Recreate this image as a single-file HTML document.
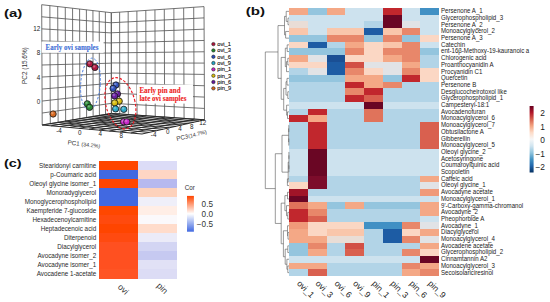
<!DOCTYPE html>
<html><head><meta charset="utf-8"><style>
html,body{margin:0;padding:0;background:#fff;}
body{width:550px;height:302px;overflow:hidden;position:relative;}
svg{position:absolute;left:0;top:0;}
text{font-family:"Liberation Sans",sans-serif;}
text.serif{font-family:"Liberation Serif",serif;}
</style></head><body>
<svg width="550" height="302" viewBox="0 0 550 302">
<rect width="550" height="302" fill="#fff"/>
<!-- panel labels -->
<text transform="translate(3.9,16.6) scale(1.27,1)" font-size="11.8" font-weight="bold" fill="#111">(a)</text>
<text transform="translate(245.8,14.5) scale(1.28,1)" font-size="11.8" font-weight="bold" fill="#111">(b)</text>
<text transform="translate(3.9,166.8) scale(1.22,1)" font-size="11.8" font-weight="bold" fill="#111">(c)</text>
<!-- 3D PCA -->
<g fill="none" stroke="#5a5a5a" stroke-width="0.85">
<path d="M41.70 4.70L42.20 125.00M49.86 5.64L50.31 123.64M57.71 6.54L58.11 122.33M65.28 7.41L65.63 121.07M72.57 8.25L72.87 119.86M79.60 9.06L79.86 118.69M86.38 9.84L86.61 117.56M92.93 10.59L93.12 116.46M99.26 11.32L99.42 115.41M105.38 12.02L105.51 114.39M111.30 12.70L111.40 113.40M41.70 4.70L111.30 12.70M41.75 16.79L111.31 22.81M41.80 28.87L111.32 32.91M41.85 40.93L111.33 43.01M41.90 52.98L111.34 53.09M41.95 65.01L111.35 63.17M42.00 77.04L111.36 73.23M42.05 89.05L111.37 83.29M42.10 101.05L111.38 93.33M42.15 113.03L111.39 103.37M42.20 125.00L111.40 113.40"/>
<path d="M111.30 12.70L111.40 113.40M119.64 12.15L119.77 113.98M128.17 11.59L128.33 114.56M136.89 11.02L137.09 115.17M145.81 10.43L146.05 115.78M154.95 9.83L155.22 116.41M164.29 9.21L164.61 117.06M173.87 8.58L174.23 117.72M183.67 7.94L184.07 118.40M193.71 7.28L194.16 119.09M204.00 6.60L204.50 119.80M111.30 12.70L204.00 6.60M111.31 22.74L204.05 17.88M111.32 32.78L204.10 29.16M111.33 42.83L204.15 40.46M111.34 52.89L204.20 51.77M111.35 62.96L204.25 63.08M111.36 73.03L204.30 74.41M111.37 83.11L204.35 85.74M111.38 93.20L204.40 97.08M111.39 103.30L204.45 108.44M111.40 113.40L204.50 119.80"/>
</g>
<g fill="none" stroke="#2a2a2a" stroke-width="1.0">
<path d="M42.20 125.00L142.00 134.00M50.04 123.69L149.19 132.37M57.65 122.41L156.14 130.79M65.04 121.17L162.86 129.26M72.22 119.97L169.38 127.78M79.21 118.80L175.69 126.35M86.00 117.66L181.80 124.96M92.61 116.55L187.74 123.61M99.04 115.47L193.49 122.30M105.30 114.42L199.08 121.03M111.40 113.40L204.50 119.80M42.20 125.00L111.40 113.40M51.13 125.81L119.86 113.98M60.27 126.63L128.49 114.57M69.63 127.47L137.30 115.18M79.22 128.34L146.30 115.80M89.04 129.22L155.48 116.43M99.10 130.13L164.87 117.08M109.42 131.06L174.45 117.73M120.00 132.02L184.25 118.41M130.86 133.00L194.26 119.10M142.00 134.00L204.50 119.80"/>
</g>
<g font-size="6.3" fill="#222" text-anchor="end">
<text x="40.3" y="31.4">12</text><text x="40.3" y="55.4">8</text><text x="40.3" y="79.5">4</text><text x="40.3" y="103.7">0</text>
</g>
<text transform="translate(27.2,65.6) rotate(-90)" font-size="6.4" fill="#333" text-anchor="middle">PC2 (15.6%)</text>
<g font-size="6.3" fill="#222" text-anchor="middle">
<text x="59" y="133">-4</text><text x="79.8" y="134.5">0</text><text x="100.2" y="136.2">4</text><text x="121.3" y="138.1">8</text>
<text x="153.6" y="137.2">-4</text><text x="167.8" y="133.6">0</text><text x="180" y="130.8">4</text><text x="191.8" y="128.5">8</text><text x="202.7" y="125.4">12</text>
</g>
<text transform="translate(67.5,144.5) rotate(6)" font-size="6.2" fill="#333">PC1 <tspan font-size="5.4">(34.2%)</tspan></text>
<text transform="translate(177,141) rotate(-14)" font-size="6.2" fill="#333">PC3<tspan font-size="5.4">(14.7%)</tspan></text>
<!-- labels boxes -->
<rect x="41.6" y="41.6" width="62" height="11.2" fill="#fff"/>
<text class="serif" transform="translate(45.6,50.1) scale(0.92,1)" font-weight="bold" font-size="7.6" fill="#3f6fd6" stroke="#3f6fd6" stroke-width="0.12">Early ovi samples</text>
<rect x="137" y="84.6" width="56" height="19" fill="#fff"/>
<g font-weight="bold" font-size="7.6" fill="#ee1c25" stroke="#ee1c25" stroke-width="0.12" transform="translate(139.4,0) scale(0.92,1)">
<text class="serif" x="0" y="92.9">Early pin and</text>
<text class="serif" x="0" y="100.9">late ovi samples</text>
</g>
<ellipse cx="90.5" cy="84" rx="9.8" ry="25.9" fill="none" stroke="#4a7de0" stroke-width="0.95" stroke-dasharray="2.4 1.7" transform="rotate(4 90.5 84)"/>
<ellipse cx="120.2" cy="103.4" rx="14.6" ry="26.2" fill="none" stroke="#ec1c24" stroke-width="1.15" stroke-dasharray="2.6 1.7" transform="rotate(-14 119.8 102.6)"/>
<circle cx="53.1" cy="114.0" r="3.15" fill="#d86418" stroke="#151515" stroke-width="0.8"/><circle cx="53.1" cy="114.0" r="3.15" fill="url(#sh)"/><circle cx="87.3" cy="103.8" r="3.15" fill="#22882e" stroke="#151515" stroke-width="0.8"/><circle cx="87.3" cy="103.8" r="3.15" fill="url(#sh)"/><circle cx="89.6" cy="107.3" r="3.15" fill="#22882e" stroke="#151515" stroke-width="0.8"/><circle cx="89.6" cy="107.3" r="3.15" fill="url(#sh)"/><circle cx="89.9" cy="63.9" r="3.15" fill="#b0103a" stroke="#151515" stroke-width="0.8"/><circle cx="89.9" cy="63.9" r="3.15" fill="url(#sh)"/><circle cx="94.9" cy="67.4" r="3.15" fill="#b0103a" stroke="#151515" stroke-width="0.8"/><circle cx="94.9" cy="67.4" r="3.15" fill="url(#sh)"/><circle cx="116.0" cy="85.0" r="3.15" fill="#2a4cbc" stroke="#151515" stroke-width="0.8"/><circle cx="116.0" cy="85.0" r="3.15" fill="url(#sh)"/><circle cx="113.1" cy="88.4" r="3.15" fill="#2a4cbc" stroke="#151515" stroke-width="0.8"/><circle cx="113.1" cy="88.4" r="3.15" fill="url(#sh)"/><circle cx="117.4" cy="93.9" r="3.15" fill="#6414a0" stroke="#151515" stroke-width="0.8"/><circle cx="117.4" cy="93.9" r="3.15" fill="url(#sh)"/><circle cx="114.6" cy="95.9" r="3.15" fill="#6414a0" stroke="#151515" stroke-width="0.8"/><circle cx="114.6" cy="95.9" r="3.15" fill="url(#sh)"/><circle cx="119.2" cy="101.2" r="3.15" fill="#d8bc08" stroke="#151515" stroke-width="0.8"/><circle cx="119.2" cy="101.2" r="3.15" fill="url(#sh)"/><circle cx="114.7" cy="102.9" r="3.15" fill="#d8bc08" stroke="#151515" stroke-width="0.8"/><circle cx="114.7" cy="102.9" r="3.15" fill="url(#sh)"/><circle cx="115.6" cy="108.9" r="3.15" fill="#22a6c8" stroke="#151515" stroke-width="0.8"/><circle cx="115.6" cy="108.9" r="3.15" fill="url(#sh)"/><circle cx="123.8" cy="109.3" r="3.15" fill="#22a6c8" stroke="#151515" stroke-width="0.8"/><circle cx="123.8" cy="109.3" r="3.15" fill="url(#sh)"/><circle cx="123.6" cy="121.8" r="3.15" fill="#c81ec8" stroke="#151515" stroke-width="0.8"/><circle cx="123.6" cy="121.8" r="3.15" fill="url(#sh)"/><circle cx="126.8" cy="121.8" r="3.15" fill="#c81ec8" stroke="#151515" stroke-width="0.8"/><circle cx="126.8" cy="121.8" r="3.15" fill="url(#sh)"/>
<g font-size="5.7" fill="#111" stroke="#111" stroke-width="0.12"><circle cx="213.4" cy="44.10" r="1.7" fill="#b0103a" stroke="#222" stroke-width="0.6"/><text x="217.3" y="46.10">ovi_1</text><circle cx="213.4" cy="50.42" r="1.7" fill="#22882e" stroke="#222" stroke-width="0.6"/><text x="217.3" y="52.42">ovi_3</text><circle cx="213.4" cy="56.74" r="1.7" fill="#2a4cbc" stroke="#222" stroke-width="0.6"/><text x="217.3" y="58.74">ovi_6</text><circle cx="213.4" cy="63.06" r="1.7" fill="#22a6c8" stroke="#222" stroke-width="0.6"/><text x="217.3" y="65.06">ovi_9</text><circle cx="213.4" cy="69.38" r="1.7" fill="#c81ec8" stroke="#222" stroke-width="0.6"/><text x="217.3" y="71.38">pin_1</text><circle cx="213.4" cy="75.70" r="1.7" fill="#d8bc08" stroke="#222" stroke-width="0.6"/><text x="217.3" y="77.70">pin_3</text><circle cx="213.4" cy="82.02" r="1.7" fill="#6414a0" stroke="#222" stroke-width="0.6"/><text x="217.3" y="84.02">pin_6</text><circle cx="213.4" cy="88.34" r="1.7" fill="#d86418" stroke="#222" stroke-width="0.6"/><text x="217.3" y="90.34">pin_9</text></g>
<!-- heatmap b -->
<g shape-rendering="crispEdges"><rect x="289.00" y="8.00" width="19.05" height="7.00" fill="#f4a886"/><rect x="307.75" y="8.00" width="19.05" height="7.00" fill="#94c5de"/><rect x="326.50" y="8.00" width="19.05" height="7.00" fill="#f4a886"/><rect x="345.25" y="8.00" width="19.05" height="7.00" fill="#cde2ee"/><rect x="364.00" y="8.00" width="19.05" height="7.00" fill="#cde2ee"/><rect x="382.75" y="8.00" width="19.05" height="7.00" fill="#c1272d"/><rect x="401.50" y="8.00" width="19.05" height="7.00" fill="#cde2ee"/><rect x="420.25" y="8.00" width="19.05" height="7.00" fill="#4190c4"/><rect x="289.00" y="14.70" width="19.05" height="7.00" fill="#cde2ee"/><rect x="307.75" y="14.70" width="19.05" height="7.00" fill="#cde2ee"/><rect x="326.50" y="14.70" width="19.05" height="7.00" fill="#cde2ee"/><rect x="345.25" y="14.70" width="19.05" height="7.00" fill="#cde2ee"/><rect x="364.00" y="14.70" width="19.05" height="7.00" fill="#cde2ee"/><rect x="382.75" y="14.70" width="19.05" height="7.00" fill="#6a0624"/><rect x="401.50" y="14.70" width="19.05" height="7.00" fill="#cde2ee"/><rect x="420.25" y="14.70" width="19.05" height="7.00" fill="#cde2ee"/><rect x="289.00" y="21.40" width="19.05" height="7.00" fill="#e9ddd6"/><rect x="307.75" y="21.40" width="19.05" height="7.00" fill="#cde2ee"/><rect x="326.50" y="21.40" width="19.05" height="7.00" fill="#cde2ee"/><rect x="345.25" y="21.40" width="19.05" height="7.00" fill="#cde2ee"/><rect x="364.00" y="21.40" width="19.05" height="7.00" fill="#b2d4e7"/><rect x="382.75" y="21.40" width="19.05" height="7.00" fill="#6a0624"/><rect x="401.50" y="21.40" width="19.05" height="7.00" fill="#e1e3e6"/><rect x="420.25" y="21.40" width="19.05" height="7.00" fill="#cde2ee"/><rect x="289.00" y="28.10" width="19.05" height="7.00" fill="#f9c6ab"/><rect x="307.75" y="28.10" width="19.05" height="7.00" fill="#cde2ee"/><rect x="326.50" y="28.10" width="19.05" height="7.00" fill="#f9c6ab"/><rect x="345.25" y="28.10" width="19.05" height="7.00" fill="#f9c6ab"/><rect x="364.00" y="28.10" width="19.05" height="7.00" fill="#1d5ca4"/><rect x="382.75" y="28.10" width="19.05" height="7.00" fill="#f9c6ab"/><rect x="401.50" y="28.10" width="19.05" height="7.00" fill="#e8876a"/><rect x="420.25" y="28.10" width="19.05" height="7.00" fill="#cde2ee"/><rect x="289.00" y="34.80" width="19.05" height="7.00" fill="#94c5de"/><rect x="307.75" y="34.80" width="19.05" height="7.00" fill="#94c5de"/><rect x="326.50" y="34.80" width="19.05" height="7.00" fill="#e8876a"/><rect x="345.25" y="34.80" width="19.05" height="7.00" fill="#e8876a"/><rect x="364.00" y="34.80" width="19.05" height="7.00" fill="#94c5de"/><rect x="382.75" y="34.80" width="19.05" height="7.00" fill="#e8876a"/><rect x="401.50" y="34.80" width="19.05" height="7.00" fill="#94c5de"/><rect x="420.25" y="34.80" width="19.05" height="7.00" fill="#fbd7c4"/><rect x="289.00" y="41.50" width="19.05" height="7.00" fill="#fbd7c4"/><rect x="307.75" y="41.50" width="19.05" height="7.00" fill="#1d5ca4"/><rect x="326.50" y="41.50" width="19.05" height="7.00" fill="#b2d4e7"/><rect x="345.25" y="41.50" width="19.05" height="7.00" fill="#f4a886"/><rect x="364.00" y="41.50" width="19.05" height="7.00" fill="#fbd7c4"/><rect x="382.75" y="41.50" width="19.05" height="7.00" fill="#f9c6ab"/><rect x="401.50" y="41.50" width="19.05" height="7.00" fill="#e8876a"/><rect x="420.25" y="41.50" width="19.05" height="7.00" fill="#cde2ee"/><rect x="289.00" y="48.20" width="19.05" height="7.00" fill="#94c5de"/><rect x="307.75" y="48.20" width="19.05" height="7.00" fill="#94c5de"/><rect x="326.50" y="48.20" width="19.05" height="7.00" fill="#94c5de"/><rect x="345.25" y="48.20" width="19.05" height="7.00" fill="#e8876a"/><rect x="364.00" y="48.20" width="19.05" height="7.00" fill="#fbd7c4"/><rect x="382.75" y="48.20" width="19.05" height="7.00" fill="#e8876a"/><rect x="401.50" y="48.20" width="19.05" height="7.00" fill="#e8876a"/><rect x="420.25" y="48.20" width="19.05" height="7.00" fill="#94c5de"/><rect x="289.00" y="54.90" width="19.05" height="7.00" fill="#f4a886"/><rect x="307.75" y="54.90" width="19.05" height="7.00" fill="#e1e3e6"/><rect x="326.50" y="54.90" width="19.05" height="7.00" fill="#1a4f94"/><rect x="345.25" y="54.90" width="19.05" height="7.00" fill="#fbd7c4"/><rect x="364.00" y="54.90" width="19.05" height="7.00" fill="#fbd7c4"/><rect x="382.75" y="54.90" width="19.05" height="7.00" fill="#f4a886"/><rect x="401.50" y="54.90" width="19.05" height="7.00" fill="#e8876a"/><rect x="420.25" y="54.90" width="19.05" height="7.00" fill="#b2d4e7"/><rect x="289.00" y="61.60" width="19.05" height="7.00" fill="#fbd7c4"/><rect x="307.75" y="61.60" width="19.05" height="7.00" fill="#fbd7c4"/><rect x="326.50" y="61.60" width="19.05" height="7.00" fill="#1d5ca4"/><rect x="345.25" y="61.60" width="19.05" height="7.00" fill="#d24f45"/><rect x="364.00" y="61.60" width="19.05" height="7.00" fill="#e1e3e6"/><rect x="382.75" y="61.60" width="19.05" height="7.00" fill="#e1e3e6"/><rect x="401.50" y="61.60" width="19.05" height="7.00" fill="#f4a886"/><rect x="420.25" y="61.60" width="19.05" height="7.00" fill="#b2d4e7"/><rect x="289.00" y="68.30" width="19.05" height="7.00" fill="#b2d4e7"/><rect x="307.75" y="68.30" width="19.05" height="7.00" fill="#e1e3e6"/><rect x="326.50" y="68.30" width="19.05" height="7.00" fill="#1d5ca4"/><rect x="345.25" y="68.30" width="19.05" height="7.00" fill="#e8876a"/><rect x="364.00" y="68.30" width="19.05" height="7.00" fill="#fbd7c4"/><rect x="382.75" y="68.30" width="19.05" height="7.00" fill="#e1e3e6"/><rect x="401.50" y="68.30" width="19.05" height="7.00" fill="#e8876a"/><rect x="420.25" y="68.30" width="19.05" height="7.00" fill="#fbd7c4"/><rect x="289.00" y="75.00" width="19.05" height="7.00" fill="#94c5de"/><rect x="307.75" y="75.00" width="19.05" height="7.00" fill="#94c5de"/><rect x="326.50" y="75.00" width="19.05" height="7.00" fill="#94c5de"/><rect x="345.25" y="75.00" width="19.05" height="7.00" fill="#f4a886"/><rect x="364.00" y="75.00" width="19.05" height="7.00" fill="#f4a886"/><rect x="382.75" y="75.00" width="19.05" height="7.00" fill="#94c5de"/><rect x="401.50" y="75.00" width="19.05" height="7.00" fill="#c1272d"/><rect x="420.25" y="75.00" width="19.05" height="7.00" fill="#fbd7c4"/><rect x="289.00" y="81.70" width="19.05" height="7.00" fill="#b2d4e7"/><rect x="307.75" y="81.70" width="19.05" height="7.00" fill="#b2d4e7"/><rect x="326.50" y="81.70" width="19.05" height="7.00" fill="#b2d4e7"/><rect x="345.25" y="81.70" width="19.05" height="7.00" fill="#c1272d"/><rect x="364.00" y="81.70" width="19.05" height="7.00" fill="#f4a886"/><rect x="382.75" y="81.70" width="19.05" height="7.00" fill="#e8876a"/><rect x="401.50" y="81.70" width="19.05" height="7.00" fill="#b2d4e7"/><rect x="420.25" y="81.70" width="19.05" height="7.00" fill="#b2d4e7"/><rect x="289.00" y="88.40" width="19.05" height="7.00" fill="#b2d4e7"/><rect x="307.75" y="88.40" width="19.05" height="7.00" fill="#b2d4e7"/><rect x="326.50" y="88.40" width="19.05" height="7.00" fill="#b2d4e7"/><rect x="345.25" y="88.40" width="19.05" height="7.00" fill="#e8876a"/><rect x="364.00" y="88.40" width="19.05" height="7.00" fill="#c1272d"/><rect x="382.75" y="88.40" width="19.05" height="7.00" fill="#b2d4e7"/><rect x="401.50" y="88.40" width="19.05" height="7.00" fill="#b2d4e7"/><rect x="420.25" y="88.40" width="19.05" height="7.00" fill="#b2d4e7"/><rect x="289.00" y="95.10" width="19.05" height="7.00" fill="#b2d4e7"/><rect x="307.75" y="95.10" width="19.05" height="7.00" fill="#b2d4e7"/><rect x="326.50" y="95.10" width="19.05" height="7.00" fill="#b2d4e7"/><rect x="345.25" y="95.10" width="19.05" height="7.00" fill="#c1272d"/><rect x="364.00" y="95.10" width="19.05" height="7.00" fill="#d9604f"/><rect x="382.75" y="95.10" width="19.05" height="7.00" fill="#b2d4e7"/><rect x="401.50" y="95.10" width="19.05" height="7.00" fill="#b2d4e7"/><rect x="420.25" y="95.10" width="19.05" height="7.00" fill="#b2d4e7"/><rect x="289.00" y="101.80" width="19.05" height="7.00" fill="#cde2ee"/><rect x="307.75" y="101.80" width="19.05" height="7.00" fill="#cde2ee"/><rect x="326.50" y="101.80" width="19.05" height="7.00" fill="#cde2ee"/><rect x="345.25" y="101.80" width="19.05" height="7.00" fill="#cde2ee"/><rect x="364.00" y="101.80" width="19.05" height="7.00" fill="#6a0624"/><rect x="382.75" y="101.80" width="19.05" height="7.00" fill="#cde2ee"/><rect x="401.50" y="101.80" width="19.05" height="7.00" fill="#cde2ee"/><rect x="420.25" y="101.80" width="19.05" height="7.00" fill="#cde2ee"/><rect x="289.00" y="108.50" width="19.05" height="7.00" fill="#b2d4e7"/><rect x="307.75" y="108.50" width="19.05" height="7.00" fill="#c1272d"/><rect x="326.50" y="108.50" width="19.05" height="7.00" fill="#b2d4e7"/><rect x="345.25" y="108.50" width="19.05" height="7.00" fill="#b2d4e7"/><rect x="364.00" y="108.50" width="19.05" height="7.00" fill="#e0735b"/><rect x="382.75" y="108.50" width="19.05" height="7.00" fill="#b2d4e7"/><rect x="401.50" y="108.50" width="19.05" height="7.00" fill="#b2d4e7"/><rect x="420.25" y="108.50" width="19.05" height="7.00" fill="#b2d4e7"/><rect x="289.00" y="115.20" width="19.05" height="7.00" fill="#c1272d"/><rect x="307.75" y="115.20" width="19.05" height="7.00" fill="#f4a886"/><rect x="326.50" y="115.20" width="19.05" height="7.00" fill="#b2d4e7"/><rect x="345.25" y="115.20" width="19.05" height="7.00" fill="#b2d4e7"/><rect x="364.00" y="115.20" width="19.05" height="7.00" fill="#e0735b"/><rect x="382.75" y="115.20" width="19.05" height="7.00" fill="#b2d4e7"/><rect x="401.50" y="115.20" width="19.05" height="7.00" fill="#b2d4e7"/><rect x="420.25" y="115.20" width="19.05" height="7.00" fill="#b2d4e7"/><rect x="289.00" y="121.90" width="19.05" height="7.00" fill="#b2d4e7"/><rect x="307.75" y="121.90" width="19.05" height="7.00" fill="#c1272d"/><rect x="326.50" y="121.90" width="19.05" height="7.00" fill="#b2d4e7"/><rect x="345.25" y="121.90" width="19.05" height="7.00" fill="#b2d4e7"/><rect x="364.00" y="121.90" width="19.05" height="7.00" fill="#b2d4e7"/><rect x="382.75" y="121.90" width="19.05" height="7.00" fill="#b2d4e7"/><rect x="401.50" y="121.90" width="19.05" height="7.00" fill="#b2d4e7"/><rect x="420.25" y="121.90" width="19.05" height="7.00" fill="#d9604f"/><rect x="289.00" y="128.60" width="19.05" height="7.00" fill="#b2d4e7"/><rect x="307.75" y="128.60" width="19.05" height="7.00" fill="#c1272d"/><rect x="326.50" y="128.60" width="19.05" height="7.00" fill="#b2d4e7"/><rect x="345.25" y="128.60" width="19.05" height="7.00" fill="#b2d4e7"/><rect x="364.00" y="128.60" width="19.05" height="7.00" fill="#b2d4e7"/><rect x="382.75" y="128.60" width="19.05" height="7.00" fill="#b2d4e7"/><rect x="401.50" y="128.60" width="19.05" height="7.00" fill="#b2d4e7"/><rect x="420.25" y="128.60" width="19.05" height="7.00" fill="#d9604f"/><rect x="289.00" y="135.30" width="19.05" height="7.00" fill="#b2d4e7"/><rect x="307.75" y="135.30" width="19.05" height="7.00" fill="#c1272d"/><rect x="326.50" y="135.30" width="19.05" height="7.00" fill="#b2d4e7"/><rect x="345.25" y="135.30" width="19.05" height="7.00" fill="#b2d4e7"/><rect x="364.00" y="135.30" width="19.05" height="7.00" fill="#b2d4e7"/><rect x="382.75" y="135.30" width="19.05" height="7.00" fill="#b2d4e7"/><rect x="401.50" y="135.30" width="19.05" height="7.00" fill="#b2d4e7"/><rect x="420.25" y="135.30" width="19.05" height="7.00" fill="#d9604f"/><rect x="289.00" y="142.00" width="19.05" height="7.00" fill="#b2d4e7"/><rect x="307.75" y="142.00" width="19.05" height="7.00" fill="#c1272d"/><rect x="326.50" y="142.00" width="19.05" height="7.00" fill="#b2d4e7"/><rect x="345.25" y="142.00" width="19.05" height="7.00" fill="#b2d4e7"/><rect x="364.00" y="142.00" width="19.05" height="7.00" fill="#b2d4e7"/><rect x="382.75" y="142.00" width="19.05" height="7.00" fill="#b2d4e7"/><rect x="401.50" y="142.00" width="19.05" height="7.00" fill="#b2d4e7"/><rect x="420.25" y="142.00" width="19.05" height="7.00" fill="#d9604f"/><rect x="289.00" y="148.70" width="19.05" height="7.00" fill="#cde2ee"/><rect x="307.75" y="148.70" width="19.05" height="7.00" fill="#6a0624"/><rect x="326.50" y="148.70" width="19.05" height="7.00" fill="#cde2ee"/><rect x="345.25" y="148.70" width="19.05" height="7.00" fill="#cde2ee"/><rect x="364.00" y="148.70" width="19.05" height="7.00" fill="#cde2ee"/><rect x="382.75" y="148.70" width="19.05" height="7.00" fill="#cde2ee"/><rect x="401.50" y="148.70" width="19.05" height="7.00" fill="#cde2ee"/><rect x="420.25" y="148.70" width="19.05" height="7.00" fill="#cde2ee"/><rect x="289.00" y="155.40" width="19.05" height="7.00" fill="#cde2ee"/><rect x="307.75" y="155.40" width="19.05" height="7.00" fill="#6a0624"/><rect x="326.50" y="155.40" width="19.05" height="7.00" fill="#cde2ee"/><rect x="345.25" y="155.40" width="19.05" height="7.00" fill="#cde2ee"/><rect x="364.00" y="155.40" width="19.05" height="7.00" fill="#cde2ee"/><rect x="382.75" y="155.40" width="19.05" height="7.00" fill="#cde2ee"/><rect x="401.50" y="155.40" width="19.05" height="7.00" fill="#cde2ee"/><rect x="420.25" y="155.40" width="19.05" height="7.00" fill="#cde2ee"/><rect x="289.00" y="162.10" width="19.05" height="7.00" fill="#cde2ee"/><rect x="307.75" y="162.10" width="19.05" height="7.00" fill="#6a0624"/><rect x="326.50" y="162.10" width="19.05" height="7.00" fill="#cde2ee"/><rect x="345.25" y="162.10" width="19.05" height="7.00" fill="#cde2ee"/><rect x="364.00" y="162.10" width="19.05" height="7.00" fill="#cde2ee"/><rect x="382.75" y="162.10" width="19.05" height="7.00" fill="#cde2ee"/><rect x="401.50" y="162.10" width="19.05" height="7.00" fill="#cde2ee"/><rect x="420.25" y="162.10" width="19.05" height="7.00" fill="#cde2ee"/><rect x="289.00" y="168.80" width="19.05" height="7.00" fill="#cde2ee"/><rect x="307.75" y="168.80" width="19.05" height="7.00" fill="#6a0624"/><rect x="326.50" y="168.80" width="19.05" height="7.00" fill="#cde2ee"/><rect x="345.25" y="168.80" width="19.05" height="7.00" fill="#cde2ee"/><rect x="364.00" y="168.80" width="19.05" height="7.00" fill="#cde2ee"/><rect x="382.75" y="168.80" width="19.05" height="7.00" fill="#cde2ee"/><rect x="401.50" y="168.80" width="19.05" height="7.00" fill="#cde2ee"/><rect x="420.25" y="168.80" width="19.05" height="7.00" fill="#cde2ee"/><rect x="289.00" y="175.50" width="19.05" height="7.00" fill="#b2d4e7"/><rect x="307.75" y="175.50" width="19.05" height="7.00" fill="#7c0c2b"/><rect x="326.50" y="175.50" width="19.05" height="7.00" fill="#b2d4e7"/><rect x="345.25" y="175.50" width="19.05" height="7.00" fill="#b2d4e7"/><rect x="364.00" y="175.50" width="19.05" height="7.00" fill="#b2d4e7"/><rect x="382.75" y="175.50" width="19.05" height="7.00" fill="#b2d4e7"/><rect x="401.50" y="175.50" width="19.05" height="7.00" fill="#b2d4e7"/><rect x="420.25" y="175.50" width="19.05" height="7.00" fill="#f4a886"/><rect x="289.00" y="182.20" width="19.05" height="7.00" fill="#fbd7c4"/><rect x="307.75" y="182.20" width="19.05" height="7.00" fill="#7c0c2b"/><rect x="326.50" y="182.20" width="19.05" height="7.00" fill="#b2d4e7"/><rect x="345.25" y="182.20" width="19.05" height="7.00" fill="#b2d4e7"/><rect x="364.00" y="182.20" width="19.05" height="7.00" fill="#b2d4e7"/><rect x="382.75" y="182.20" width="19.05" height="7.00" fill="#b2d4e7"/><rect x="401.50" y="182.20" width="19.05" height="7.00" fill="#b2d4e7"/><rect x="420.25" y="182.20" width="19.05" height="7.00" fill="#e1e3e6"/><rect x="289.00" y="188.90" width="19.05" height="7.00" fill="#a01428"/><rect x="307.75" y="188.90" width="19.05" height="7.00" fill="#b2d4e7"/><rect x="326.50" y="188.90" width="19.05" height="7.00" fill="#b2d4e7"/><rect x="345.25" y="188.90" width="19.05" height="7.00" fill="#b2d4e7"/><rect x="364.00" y="188.90" width="19.05" height="7.00" fill="#b2d4e7"/><rect x="382.75" y="188.90" width="19.05" height="7.00" fill="#b2d4e7"/><rect x="401.50" y="188.90" width="19.05" height="7.00" fill="#b2d4e7"/><rect x="420.25" y="188.90" width="19.05" height="7.00" fill="#f09a7a"/><rect x="289.00" y="195.60" width="19.05" height="7.00" fill="#6a0624"/><rect x="307.75" y="195.60" width="19.05" height="7.00" fill="#cde2ee"/><rect x="326.50" y="195.60" width="19.05" height="7.00" fill="#cde2ee"/><rect x="345.25" y="195.60" width="19.05" height="7.00" fill="#cde2ee"/><rect x="364.00" y="195.60" width="19.05" height="7.00" fill="#cde2ee"/><rect x="382.75" y="195.60" width="19.05" height="7.00" fill="#cde2ee"/><rect x="401.50" y="195.60" width="19.05" height="7.00" fill="#cde2ee"/><rect x="420.25" y="195.60" width="19.05" height="7.00" fill="#cde2ee"/><rect x="289.00" y="202.30" width="19.05" height="7.00" fill="#e0735b"/><rect x="307.75" y="202.30" width="19.05" height="7.00" fill="#f4a886"/><rect x="326.50" y="202.30" width="19.05" height="7.00" fill="#94c5de"/><rect x="345.25" y="202.30" width="19.05" height="7.00" fill="#f4a886"/><rect x="364.00" y="202.30" width="19.05" height="7.00" fill="#94c5de"/><rect x="382.75" y="202.30" width="19.05" height="7.00" fill="#94c5de"/><rect x="401.50" y="202.30" width="19.05" height="7.00" fill="#94c5de"/><rect x="420.25" y="202.30" width="19.05" height="7.00" fill="#f4a886"/><rect x="289.00" y="209.00" width="19.05" height="7.00" fill="#c1272d"/><rect x="307.75" y="209.00" width="19.05" height="7.00" fill="#e8876a"/><rect x="326.50" y="209.00" width="19.05" height="7.00" fill="#b2d4e7"/><rect x="345.25" y="209.00" width="19.05" height="7.00" fill="#b2d4e7"/><rect x="364.00" y="209.00" width="19.05" height="7.00" fill="#b2d4e7"/><rect x="382.75" y="209.00" width="19.05" height="7.00" fill="#b2d4e7"/><rect x="401.50" y="209.00" width="19.05" height="7.00" fill="#b2d4e7"/><rect x="420.25" y="209.00" width="19.05" height="7.00" fill="#f4a886"/><rect x="289.00" y="215.70" width="19.05" height="7.00" fill="#c1272d"/><rect x="307.75" y="215.70" width="19.05" height="7.00" fill="#d9604f"/><rect x="326.50" y="215.70" width="19.05" height="7.00" fill="#b2d4e7"/><rect x="345.25" y="215.70" width="19.05" height="7.00" fill="#b2d4e7"/><rect x="364.00" y="215.70" width="19.05" height="7.00" fill="#b2d4e7"/><rect x="382.75" y="215.70" width="19.05" height="7.00" fill="#b2d4e7"/><rect x="401.50" y="215.70" width="19.05" height="7.00" fill="#b2d4e7"/><rect x="420.25" y="215.70" width="19.05" height="7.00" fill="#cde2ee"/><rect x="289.00" y="222.40" width="19.05" height="7.00" fill="#f09a7a"/><rect x="307.75" y="222.40" width="19.05" height="7.00" fill="#fbd7c4"/><rect x="326.50" y="222.40" width="19.05" height="7.00" fill="#fbd7c4"/><rect x="345.25" y="222.40" width="19.05" height="7.00" fill="#fbd7c4"/><rect x="364.00" y="222.40" width="19.05" height="7.00" fill="#4190c4"/><rect x="382.75" y="222.40" width="19.05" height="7.00" fill="#4190c4"/><rect x="401.50" y="222.40" width="19.05" height="7.00" fill="#e8876a"/><rect x="420.25" y="222.40" width="19.05" height="7.00" fill="#e1e3e6"/><rect x="289.00" y="229.10" width="19.05" height="7.00" fill="#f4a886"/><rect x="307.75" y="229.10" width="19.05" height="7.00" fill="#fbd7c4"/><rect x="326.50" y="229.10" width="19.05" height="7.00" fill="#f9c6ab"/><rect x="345.25" y="229.10" width="19.05" height="7.00" fill="#f9c6ab"/><rect x="364.00" y="229.10" width="19.05" height="7.00" fill="#b2d4e7"/><rect x="382.75" y="229.10" width="19.05" height="7.00" fill="#1d5ca4"/><rect x="401.50" y="229.10" width="19.05" height="7.00" fill="#fbd7c4"/><rect x="420.25" y="229.10" width="19.05" height="7.00" fill="#f4a886"/><rect x="289.00" y="235.80" width="19.05" height="7.00" fill="#f4a886"/><rect x="307.75" y="235.80" width="19.05" height="7.00" fill="#f4a886"/><rect x="326.50" y="235.80" width="19.05" height="7.00" fill="#e9ddd6"/><rect x="345.25" y="235.80" width="19.05" height="7.00" fill="#e9ddd6"/><rect x="364.00" y="235.80" width="19.05" height="7.00" fill="#b2d4e7"/><rect x="382.75" y="235.80" width="19.05" height="7.00" fill="#1d5ca4"/><rect x="401.50" y="235.80" width="19.05" height="7.00" fill="#e8876a"/><rect x="420.25" y="235.80" width="19.05" height="7.00" fill="#e1e3e6"/><rect x="289.00" y="242.50" width="19.05" height="7.00" fill="#94c5de"/><rect x="307.75" y="242.50" width="19.05" height="7.00" fill="#e8876a"/><rect x="326.50" y="242.50" width="19.05" height="7.00" fill="#b2d4e7"/><rect x="345.25" y="242.50" width="19.05" height="7.00" fill="#d24f45"/><rect x="364.00" y="242.50" width="19.05" height="7.00" fill="#b2d4e7"/><rect x="382.75" y="242.50" width="19.05" height="7.00" fill="#b2d4e7"/><rect x="401.50" y="242.50" width="19.05" height="7.00" fill="#b2d4e7"/><rect x="420.25" y="242.50" width="19.05" height="7.00" fill="#f4a886"/><rect x="289.00" y="249.20" width="19.05" height="7.00" fill="#94c5de"/><rect x="307.75" y="249.20" width="19.05" height="7.00" fill="#f4a886"/><rect x="326.50" y="249.20" width="19.05" height="7.00" fill="#b2d4e7"/><rect x="345.25" y="249.20" width="19.05" height="7.00" fill="#d9604f"/><rect x="364.00" y="249.20" width="19.05" height="7.00" fill="#b2d4e7"/><rect x="382.75" y="249.20" width="19.05" height="7.00" fill="#b2d4e7"/><rect x="401.50" y="249.20" width="19.05" height="7.00" fill="#e8876a"/><rect x="420.25" y="249.20" width="19.05" height="7.00" fill="#fbd7c4"/><rect x="289.00" y="255.90" width="19.05" height="7.00" fill="#cde2ee"/><rect x="307.75" y="255.90" width="19.05" height="7.00" fill="#cde2ee"/><rect x="326.50" y="255.90" width="19.05" height="7.00" fill="#cde2ee"/><rect x="345.25" y="255.90" width="19.05" height="7.00" fill="#cde2ee"/><rect x="364.00" y="255.90" width="19.05" height="7.00" fill="#cde2ee"/><rect x="382.75" y="255.90" width="19.05" height="7.00" fill="#cde2ee"/><rect x="401.50" y="255.90" width="19.05" height="7.00" fill="#cde2ee"/><rect x="420.25" y="255.90" width="19.05" height="7.00" fill="#6a0624"/><rect x="289.00" y="262.60" width="19.05" height="7.00" fill="#f4a886"/><rect x="307.75" y="262.60" width="19.05" height="7.00" fill="#f4a886"/><rect x="326.50" y="262.60" width="19.05" height="7.00" fill="#b2d4e7"/><rect x="345.25" y="262.60" width="19.05" height="7.00" fill="#b2d4e7"/><rect x="364.00" y="262.60" width="19.05" height="7.00" fill="#b2d4e7"/><rect x="382.75" y="262.60" width="19.05" height="7.00" fill="#b2d4e7"/><rect x="401.50" y="262.60" width="19.05" height="7.00" fill="#e8876a"/><rect x="420.25" y="262.60" width="19.05" height="7.00" fill="#f4a886"/><rect x="289.00" y="269.30" width="19.05" height="7.00" fill="#b2d4e7"/><rect x="307.75" y="269.30" width="19.05" height="7.00" fill="#d9604f"/><rect x="326.50" y="269.30" width="19.05" height="7.00" fill="#b2d4e7"/><rect x="345.25" y="269.30" width="19.05" height="7.00" fill="#b2d4e7"/><rect x="364.00" y="269.30" width="19.05" height="7.00" fill="#b2d4e7"/><rect x="382.75" y="269.30" width="19.05" height="7.00" fill="#b2d4e7"/><rect x="401.50" y="269.30" width="19.05" height="7.00" fill="#f4a886"/><rect x="420.25" y="269.30" width="19.05" height="7.00" fill="#e8876a"/></g>
<g font-size="6.5" fill="#1a1a1a" transform="translate(441,0) scale(0.94,1)"><text x="0" y="13.30">Persenone A_1</text><text x="0" y="20.00">Glycerophospholipid_3</text><text x="0" y="26.70">Persenone A_2</text><text x="0" y="33.40">Monoacylglycerol_2</text><text x="0" y="40.10">Persenone A_3</text><text x="0" y="46.80">Catechin</text><text x="0" y="53.50">ent-16β-Methoxy-19-kauranoic a</text><text x="0" y="60.20">Chlorogenic acid</text><text x="0" y="66.90">Proanthocyanidin A</text><text x="0" y="73.60">Procyanidin C1</text><text x="0" y="80.30">Quercetin</text><text x="0" y="87.00">Persenone B</text><text x="0" y="93.70">Desglucocheirotoxol like</text><text x="0" y="100.40">Glycerophospholipid_1</text><text x="0" y="107.10">Campesteryl-18:1</text><text x="0" y="113.80">Avocadenofuran</text><text x="0" y="120.50">Monoacylglycerol_6</text><text x="0" y="127.20">Monoacylglycerol_7</text><text x="0" y="133.90">Obtusilactone A</text><text x="0" y="140.60">Gibberellin</text><text x="0" y="147.30">Monoacylglycerol_5</text><text x="0" y="154.00">Oleoyl glycine_2</text><text x="0" y="160.70">Acetosyringone</text><text x="0" y="167.40">Coumaroylquinic acid</text><text x="0" y="174.10">Scopoletin</text><text x="0" y="180.80">Caffeic acid</text><text x="0" y="187.50">Oleoyl glycine_1</text><text x="0" y="194.20">Avocadyne acetate</text><text x="0" y="200.90">Monoacylglycerol_1</text><text x="0" y="207.60">9'-Carboxy-gamma-chromanol</text><text x="0" y="214.30">Avocadyne_2</text><text x="0" y="221.00">Pheophorbide A</text><text x="0" y="227.70">Avocadyne_1</text><text x="0" y="234.40">Diacylglycerol</text><text x="0" y="241.10">Monoacylglycerol_4</text><text x="0" y="247.80">Avocadene acetate</text><text x="0" y="254.50">Glycerophospholipid_2</text><text x="0" y="261.20">Cinnamtannin A2</text><text x="0" y="267.90">Monoacylglycerol_3</text><text x="0" y="274.60">Secoisolariciresinol</text></g>
<g font-size="8.5" fill="#1a1a1a"><text transform="translate(296.38,284.0) rotate(45)">ovi_1</text><text transform="translate(315.12,284.0) rotate(45)">ovi_3</text><text transform="translate(333.88,284.0) rotate(45)">ovi_6</text><text transform="translate(352.62,284.0) rotate(45)">ovi_9</text><text transform="translate(371.38,284.0) rotate(45)">pin_1</text><text transform="translate(390.12,284.0) rotate(45)">pin_3</text><text transform="translate(408.88,284.0) rotate(45)">pin_6</text><text transform="translate(427.62,284.0) rotate(45)">pin_9</text></g>
<!-- colorbar b -->
<defs>
<radialGradient id="sh" cx="0.38" cy="0.35" r="0.7">
<stop offset="0" stop-color="#fff" stop-opacity="0.45"/><stop offset="0.45" stop-color="#fff" stop-opacity="0"/><stop offset="1" stop-color="#000" stop-opacity="0.25"/>
</radialGradient>
<linearGradient id="gb" x1="0" y1="0" x2="0" y2="1">
<stop offset="0" stop-color="#67001f"/><stop offset="0.1" stop-color="#b2182b"/><stop offset="0.2" stop-color="#d6604d"/><stop offset="0.3" stop-color="#f4a582"/><stop offset="0.4" stop-color="#fddbc7"/><stop offset="0.5" stop-color="#f7f7f7"/><stop offset="0.6" stop-color="#d1e5f0"/><stop offset="0.7" stop-color="#92c5de"/><stop offset="0.8" stop-color="#4393c3"/><stop offset="0.9" stop-color="#2166ac"/><stop offset="1" stop-color="#053061"/>
</linearGradient>
<linearGradient id="gc" x1="0" y1="0" x2="0" y2="1">
<stop offset="0" stop-color="#ff4500"/><stop offset="0.5" stop-color="#ffffff"/><stop offset="1" stop-color="#4169e1"/>
</linearGradient>
</defs>
<rect x="529.6" y="106" width="4" height="66.5" fill="url(#gb)"/>
<g font-size="8.4" fill="#1a1a1a" text-anchor="end">
<text x="545" y="116">2</text><text x="545" y="129.7">1</text><text x="545" y="143.1">0</text><text x="545" y="156.8">−1</text><text x="545" y="169.6">−2</text>
</g>
<!-- dendrogram -->
<path d="M289.00 18.05H288.00V24.75H289.00M289.00 11.35H286.20V21.40H288.00M289.00 31.45H285.60V38.15H289.00M286.20 16.38H284.50V34.80H285.60M289.00 44.85H287.20V51.55H289.00M289.00 58.25H287.80V64.95H289.00M287.80 61.60H286.50V71.65H289.00M287.20 48.20H285.30V66.62H286.50M289.00 78.35H287.00V85.05H289.00M289.00 91.75H287.80V98.45H289.00M287.00 81.70H286.00V95.10H287.80M289.00 111.85H287.50V118.55H289.00M289.00 105.15H286.60V115.20H287.50M286.00 88.40H283.70V110.17H286.60M285.30 57.41H281.20V99.29H283.70M284.50 25.59H278.00V78.35H281.20M289.00 125.25H288.80V131.95H289.00M289.00 138.65H288.80V145.35H289.00M288.80 128.60H288.60V142.00H288.80M289.00 152.05H288.90V158.75H289.00M289.00 165.45H288.90V172.15H289.00M288.90 155.40H288.90V168.80H288.90M289.00 178.85H287.40V185.55H289.00M288.90 162.10H288.20V182.20H287.40M288.60 135.30H282.00V172.15H288.20M289.00 192.25H287.50V198.95H289.00M289.00 212.35H287.80V219.05H289.00M289.00 205.65H286.50V215.70H287.80M287.50 195.60H284.90V210.68H286.50M289.00 232.45H288.00V239.15H289.00M289.00 225.75H287.50V235.80H288.00M289.00 245.85H287.80V252.55H289.00M289.00 265.95H287.80V272.65H289.00M289.00 259.25H286.90V269.30H287.80M287.80 249.20H285.20V264.28H286.90M287.50 230.78H283.40V256.74H285.20M284.90 203.14H281.20V243.76H283.40M282.00 153.73H275.30V223.45H281.20M278.00 51.97H265.30V188.59H275.30" fill="none" stroke="#555" stroke-width="0.6"/>
<!-- heatmap c -->
<g shape-rendering="crispEdges"><rect x="98.50" y="161.40" width="39.50" height="9.30" fill="#ff4500"/><rect x="137.70" y="161.40" width="39.20" height="9.30" fill="#dcdcf7"/><rect x="98.50" y="170.40" width="39.50" height="9.30" fill="#4169e1"/><rect x="137.70" y="170.40" width="39.20" height="9.30" fill="#fed6c4"/><rect x="98.50" y="179.40" width="39.50" height="9.30" fill="#ff4500"/><rect x="137.70" y="179.40" width="39.20" height="9.30" fill="#b6b9ef"/><rect x="98.50" y="188.40" width="39.50" height="9.30" fill="#4169e1"/><rect x="137.70" y="188.40" width="39.20" height="9.30" fill="#fdd2bc"/><rect x="98.50" y="197.40" width="39.50" height="9.30" fill="#4169e1"/><rect x="137.70" y="197.40" width="39.20" height="9.30" fill="#efeff9"/><rect x="98.50" y="206.40" width="39.50" height="9.30" fill="#ff4700"/><rect x="137.70" y="206.40" width="39.20" height="9.30" fill="#ffeee6"/><rect x="98.50" y="215.40" width="39.50" height="9.30" fill="#ff4a0e"/><rect x="137.70" y="215.40" width="39.20" height="9.30" fill="#fbf9fb"/><rect x="98.50" y="224.40" width="39.50" height="9.30" fill="#ff4500"/><rect x="137.70" y="224.40" width="39.20" height="9.30" fill="#ffdccb"/><rect x="98.50" y="233.40" width="39.50" height="9.30" fill="#ff4a10"/><rect x="137.70" y="233.40" width="39.20" height="9.30" fill="#ebebf8"/><rect x="98.50" y="242.40" width="39.50" height="9.30" fill="#ff5020"/><rect x="137.70" y="242.40" width="39.20" height="9.30" fill="#d3d5f3"/><rect x="98.50" y="251.40" width="39.50" height="9.30" fill="#ff5020"/><rect x="137.70" y="251.40" width="39.20" height="9.30" fill="#c6c9f1"/><rect x="98.50" y="260.40" width="39.50" height="9.30" fill="#ff5020"/><rect x="137.70" y="260.40" width="39.20" height="9.30" fill="#e1e1f6"/><rect x="98.50" y="269.40" width="39.50" height="9.30" fill="#ff5424"/><rect x="137.70" y="269.40" width="39.20" height="9.30" fill="#dcdcf5"/></g>
<g font-size="6.8" fill="#2a2a2a" text-anchor="end" transform="translate(96.2,0) scale(0.93,1)"><text x="0" y="168.30">Stearidonyl carnitine</text><text x="0" y="177.30">p-Coumaric acid</text><text x="0" y="186.30">Oleoyl glycine isomer_1</text><text x="0" y="195.30">Monoradyglycerol</text><text x="0" y="204.30">Monoglycerophospholipid</text><text x="0" y="213.30">Kaempferide 7-glucoside</text><text x="0" y="222.30">Hexadecenoylcarnitine</text><text x="0" y="231.30">Heptadecenoic acid</text><text x="0" y="240.30">Diterpenoid</text><text x="0" y="249.30">Diacylglycerol</text><text x="0" y="258.30">Avocadyne isomer_2</text><text x="0" y="267.30">Avocadyne isomer_1</text><text x="0" y="276.30">Avocadene 1-acetate</text></g>
<text transform="translate(117.3,287.4) rotate(45)" font-size="8.6" fill="#333">ovi</text>
<text transform="translate(156.3,286.2) rotate(45)" font-size="8.6" fill="#333">pin</text>
<text x="184.8" y="190" font-size="6.3" fill="#333">Cor</text>
<rect x="187" y="195.9" width="6.9" height="35.8" fill="url(#gc)"/>
<g font-size="8.2" fill="#333" text-anchor="end">
<text x="213" y="206.8">0.5</text><text x="213" y="217.1">0.0</text><text x="213" y="227">−0.5</text>
</g>
</svg>
</body></html>
